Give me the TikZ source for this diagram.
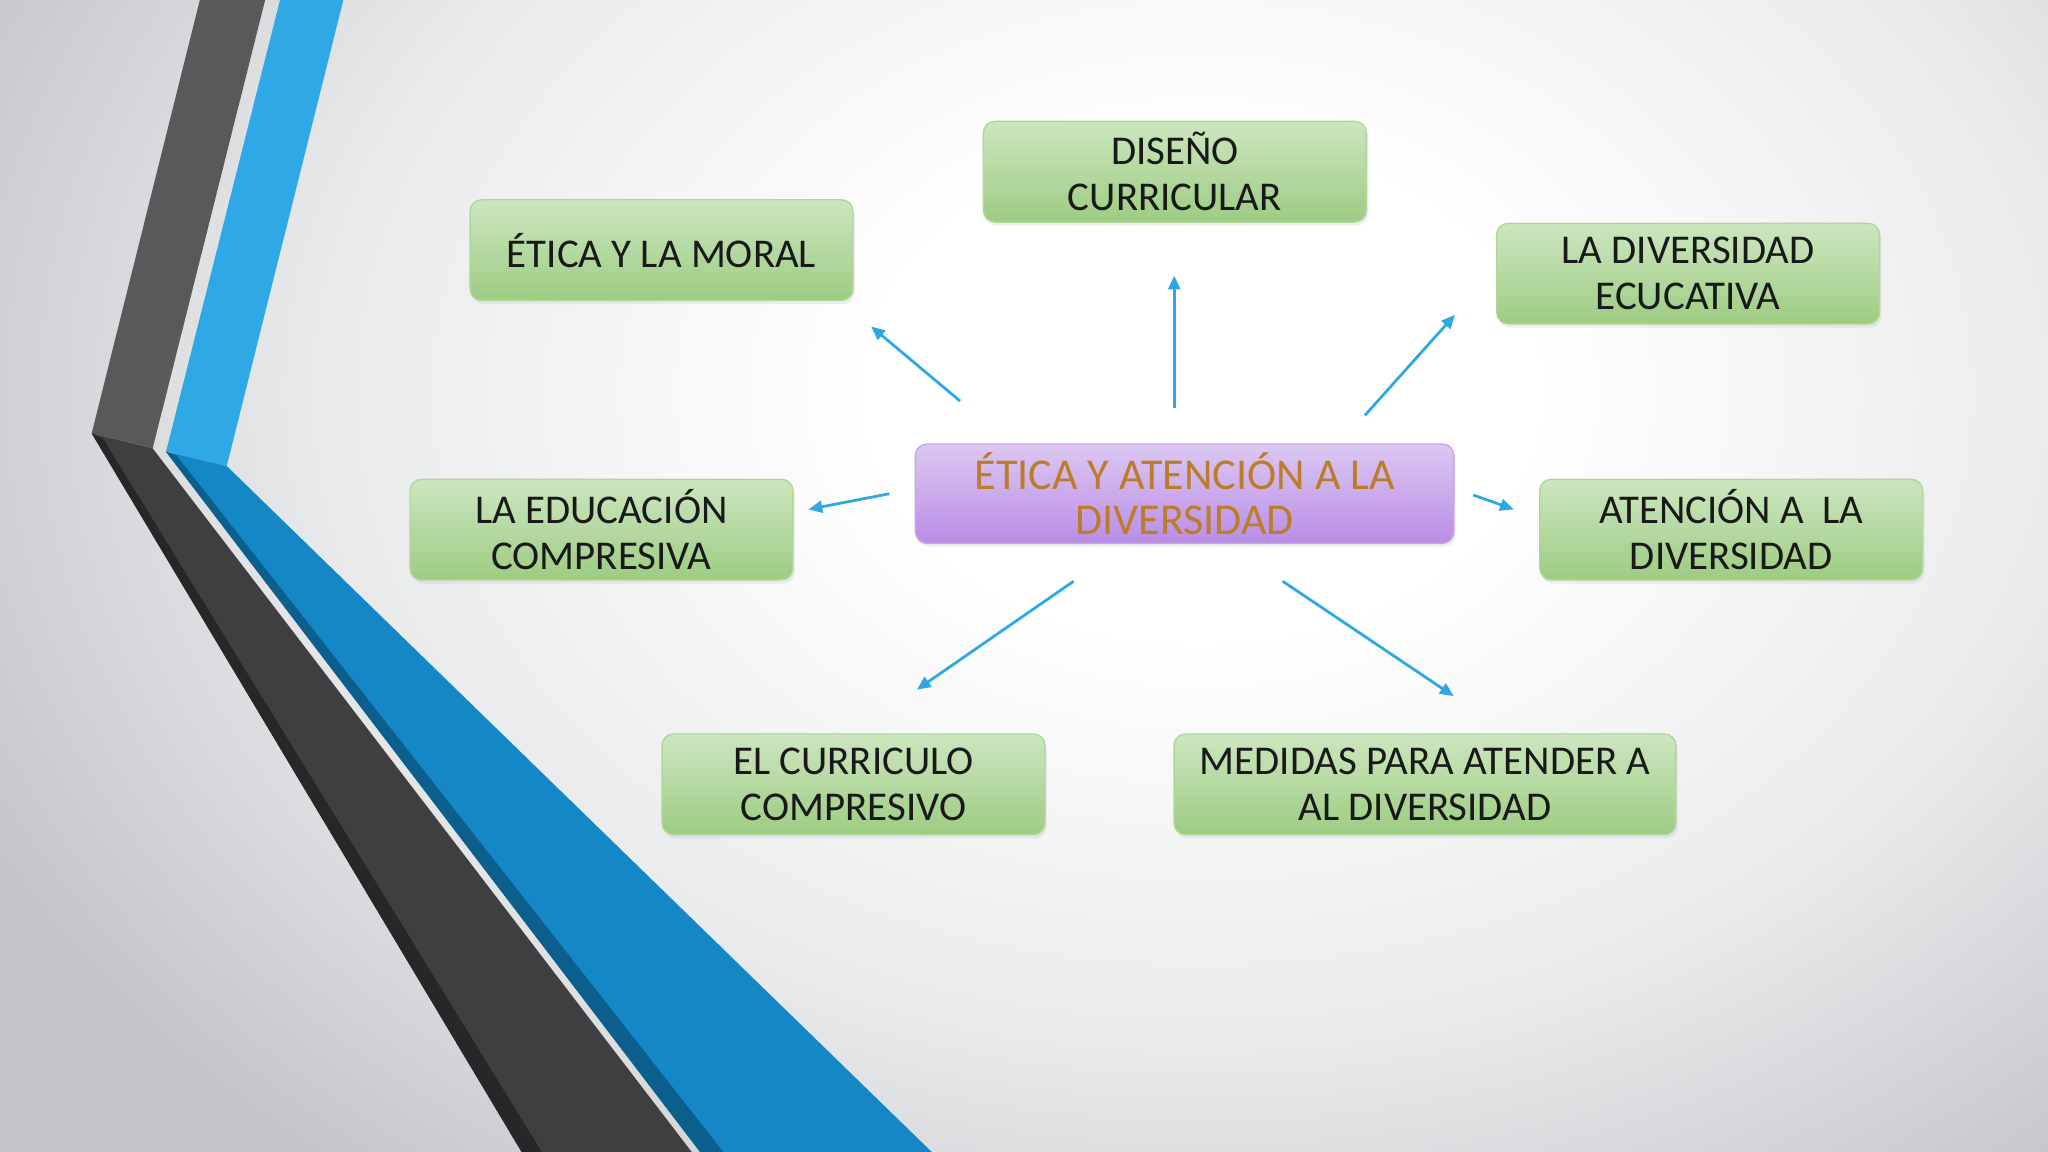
\documentclass[tikz,border=0pt]{standalone}
\usepackage{fontspec}
\setmainfont{Carlito}
\usetikzlibrary{arrows.meta, shadows}
\definecolor{gris}{HTML}{C2C4C8}
\definecolor{grisclaro}{HTML}{58595B}
\definecolor{grisoscuro}{HTML}{3F3F41}
\definecolor{grisnegro}{HTML}{27272A}
\definecolor{azul}{HTML}{2FA8E6}
\definecolor{azulmedio}{HTML}{1488C6}
\definecolor{azuloscuro}{HTML}{0C5E8C}
\definecolor{flechaazul}{HTML}{2EA8E5}
\definecolor{verdeclaro}{HTML}{CDE6C0}
\definecolor{verdeoscuro}{HTML}{9DCC82}
\definecolor{moradoclaro}{HTML}{DCC8F2}
\definecolor{moradooscuro}{HTML}{B98DE6}
\definecolor{dorado}{HTML}{BC7D2A}
\pgfdeclareradialshading{fondo}{\pgfpoint{0bp}{0bp}}{color(0bp)=(white); color(6bp)=(white); color(16bp)=(gris!35!white); color(25bp)=(gris); color(50bp)=(gris)}

\begin{document}
\begin{tikzpicture}[x=0.01cm,y=-0.01cm,
    caja/.style={rectangle, rounded corners=2.5pt, inner sep=0pt,
        minimum width=2.93cm, minimum height=0.77cm, align=center,
        top color=verdeclaro, bottom color=verdeoscuro,
        draw=verdeoscuro!80!white, line width=0.3pt,
        drop shadow={opacity=0.12, shadow xshift=0.4pt, shadow yshift=-0.8pt},
        font=\fontsize{8.9}{10}\selectfont, text=black!90},
    centro/.style={caja, minimum width=4.12cm, minimum height=0.76cm,
        top color=moradoclaro, bottom color=moradooscuro,
        draw=moradooscuro!80!white, text=dorado, font=\fontsize{9.6}{10}\selectfont},
    flecha/.style={flechaazul, line width=0.6pt, -{Triangle[length=3pt,width=2.6pt]}}]
    \useasboundingbox (0,0) rectangle (1568,882);
    % fondo
    \fill[gris] (0,0) rectangle (1568,882);
    \begin{scope}
        \clip (0,0) rectangle (1568,882);
        \shade[shading=fondo] (920,300) ellipse [x radius=10.5cm, y radius=7.8cm];
    \end{scope}
    % bandas
    \fill[grisclaro] (153,0)--(203,0)--(116.9,343.3)--(70.2,331.8)--cycle;
    \fill[azul] (214.4,0)--(262.9,0)--(173.6,356.8)--(127.1,345.9)--cycle;
    \fill[grisoscuro] (70.2,331.8)--(116.9,343.3)--(529.6,882)--(399.4,882)--cycle;
    \fill[grisnegro] (70.2,331.8)--(79,336)--(414.8,882)--(399.4,882)--cycle;
    \fill[azulmedio] (127.1,345.9)--(173.6,356.8)--(713.4,882)--(536,882)--cycle;
    \fill[azuloscuro] (127.1,345.9)--(135,348.5)--(553.8,882)--(536,882)--cycle;
    % cajas
    \node[centro] (hub) at (907,378) {ÉTICA Y ATENCIÓN A LA\\DIVERSIDAD};
    \node[caja] (diseno) at (899.5,131.5) {DISEÑO\\CURRICULAR};
    \node[caja] (moral) at (506.5,191.5) {ÉTICA Y LA MORAL};
    \node[caja] (diversidad) at (1292.5,209.5) {LA DIVERSIDAD\\ECUCATIVA};
    \node[caja] (educacion) at (460.5,405.5) {LA EDUCACIÓN\\COMPRESIVA};
    \node[caja] (atencion) at (1325.5,405.5) {ATENCIÓN A\ \ LA\\DIVERSIDAD};
    \node[caja] (curriculo) at (653.5,600.5) {EL CURRICULO\\COMPRESIVO};
    \node[caja, minimum width=3.84cm] (medidas) at (1091,600.5) {MEDIDAS PARA ATENDER A\\AL DIVERSIDAD};
    % flechas
    \coordinate (s1) at (735,307); \coordinate (e1) at (667,250);
    \coordinate (s2) at (899,312); \coordinate (e2) at (899,211);
    \coordinate (s3) at (1045,318); \coordinate (e3) at (1114,241);
    \coordinate (s4) at (681,378); \coordinate (e4) at (619,390);
    \coordinate (s5) at (1128,379); \coordinate (e5) at (1159,390);
    \coordinate (s6) at (822,445); \coordinate (e6) at (702,528);
    \coordinate (s7) at (982,445); \coordinate (e7) at (1113,533);
    \foreach \i in {1,...,7}{
        \draw[flecha] (s\i)--(e\i);
    }
\end{tikzpicture}
\end{document}
